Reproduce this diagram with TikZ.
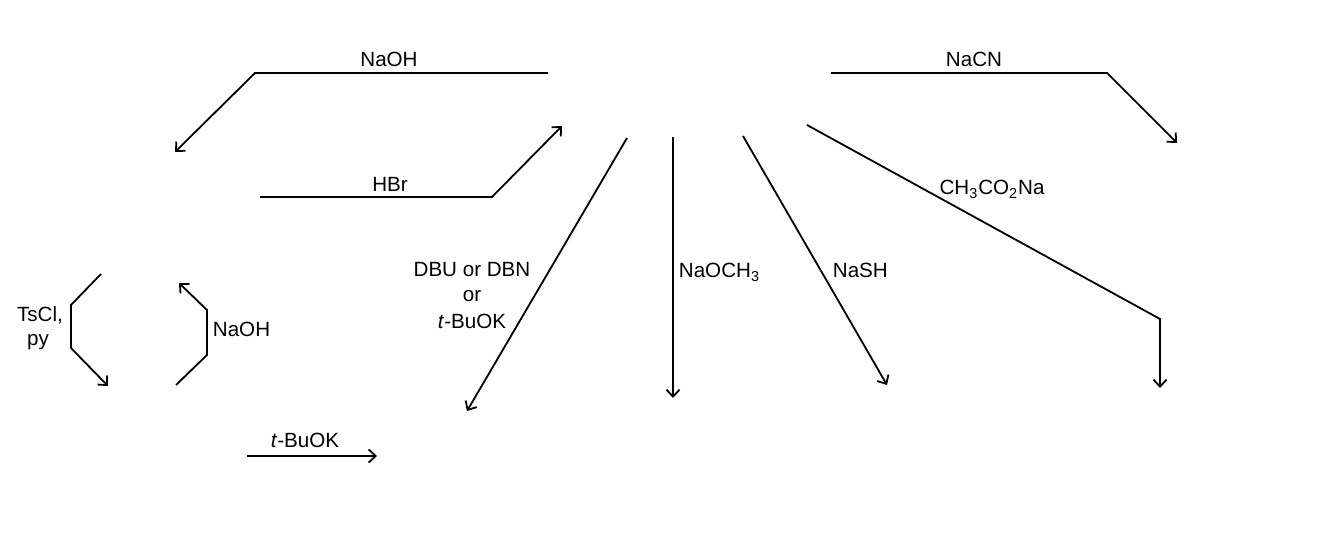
\documentclass[tikz,border=0pt]{standalone}
\usepackage{fontspec}
\setmainfont{Liberation Sans}
\usetikzlibrary{arrows.meta,positioning}

\tikzstyle{every path}+=[line width=0.9pt]
\tikzstyle{rxn}=[-{Straight Barb[length=3.5pt,width=6.5pt]}]
\tikzstyle{reag}=[inner sep=0pt,anchor=base,font=\fontsize{10.3}{13}\selectfont]

\begin{document}
\begin{tikzpicture}[x=0.5pt,y=-0.5pt]
\useasboundingbox (0,0) rectangle (1332,560);

% top row
\coordinate (naohA) at (548,73);
\coordinate (naohB) at (255,73);
\coordinate (naohC) at (175,152);
\coordinate (hbrA) at (260,197);
\coordinate (hbrB) at (492,197);
\coordinate (hbrC) at (562,126);
\coordinate (nacnA) at (831,73);
\coordinate (nacnB) at (1107,73);
\coordinate (nacnC) at (1177,143);

% fan of arrows
\coordinate (dbuA) at (627,138);
\coordinate (dbuB) at (467,411);
\coordinate (meoA) at (673,137);
\coordinate (meoB) at (673,398);
\coordinate (nashA) at (743,136);
\coordinate (nashB) at (887,385);
\coordinate (acoA) at (807,125);
\coordinate (acoB) at (1160,319);
\coordinate (acoC) at (1160,388);

% left side
\coordinate (tsA) at (101,274);
\coordinate (tsB) at (71,305);
\coordinate (tsC) at (71,348);
\coordinate (tsD) at (108,386);
\coordinate (ohA) at (176,385);
\coordinate (ohB) at (207,355);
\coordinate (ohC) at (207,310);
\coordinate (ohD) at (179,283);
\coordinate (buA) at (247,456);
\coordinate (buB) at (377,456);

\node[reag] (naoh) at (389,67) {NaOH};
\node[reag] (hbr) at (390,192) {HBr};
\node[reag] (nacn) at (974,67) {NaCN};
\node[reag] (dbu) at (472,277) {DBU or DBN};
\node[reag] (or) at (472,302) {or};
\node[reag] (tbu1) at (472,329) {\textit{t}-BuOK};
\node[reag,anchor=base west] (meo) at (678,278) {NaOCH\textsubscript{3}};
\node[reag,anchor=base west] (nash) at (832,278) {NaSH};
\node[reag] (aco) at (992,195) {CH\textsubscript{3}CO\textsubscript{2}Na};
\node[reag] (tscl) at (40,322) {TsCl,};
\node[reag] (py) at (38,346) {py};
\node[reag,anchor=base west] (naoh2) at (212,337) {NaOH};
\node[reag] (tbu2) at (305,448) {\textit{t}-BuOK};

\draw[rxn] (naohA) -- (naohB) -- (naohC);
\draw[rxn] (hbrA) -- (hbrB) -- (hbrC);
\draw[rxn] (nacnA) -- (nacnB) -- (nacnC);
\draw[rxn] (dbuA) -- (dbuB);
\draw[rxn] (meoA) -- (meoB);
\draw[rxn] (nashA) -- (nashB);
\draw[rxn] (acoA) -- (acoB) -- (acoC);
\draw[rxn] (tsA) -- (tsB) -- (tsC) -- (tsD);
\draw[rxn] (ohA) -- (ohB) -- (ohC) -- (ohD);
\draw[rxn] (buA) -- (buB);
\end{tikzpicture}
\end{document}
